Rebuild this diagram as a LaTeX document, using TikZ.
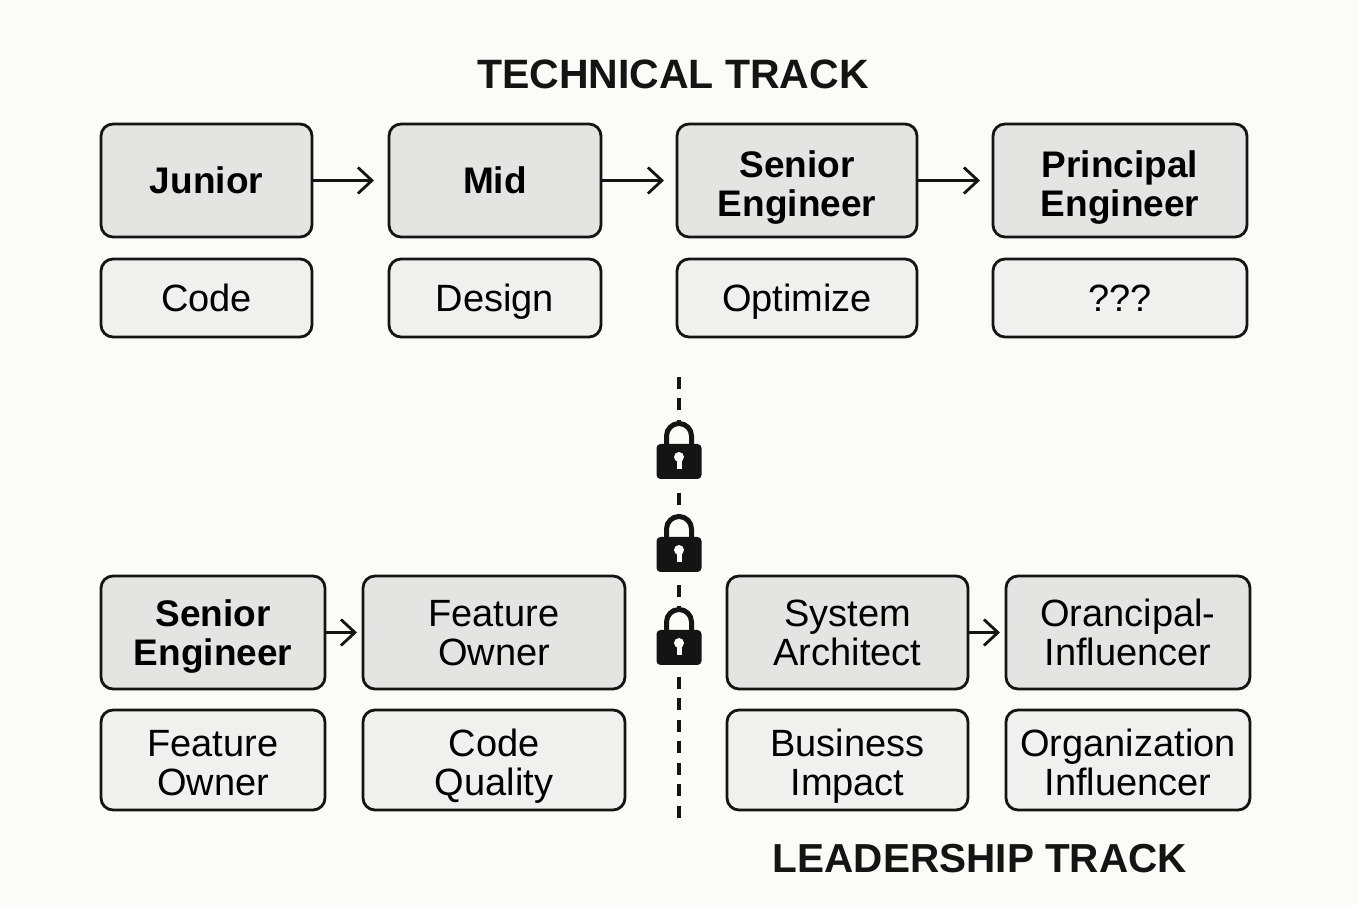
\documentclass[tikz,border=0pt]{standalone}
\usepackage{fontspec}
\setmainfont{Liberation Sans}
\usepackage{tikz}
\usetikzlibrary{arrows.meta, positioning}
\definecolor{pagecream}{RGB}{251,251,248}
\definecolor{inkblack}{RGB}{20,20,20}
\definecolor{rolegrey}{RGB}{228,228,227}
\definecolor{skillgrey}{RGB}{240,240,238}

\tikzset{
   pics/padlock/.style={code={
      \draw[inkblack, line width=5pt] (-12.5,6) -- (-12.5,14) arc[start angle=180, end angle=0, radius=12.5] -- (12.5,6);
      \fill[inkblack, rounded corners=4pt] (-22.5,-29) rectangle (22.5,6);
      \fill[pagecream] (0,-7) circle (5);
      \fill[pagecream] (-2.5,-8) rectangle (2.5,-19);
   }}
}

\begin{document}
\begin{tikzpicture}[x=1pt, y=1pt,
   rolebox/.style={draw=inkblack, fill=rolegrey, line width=2.8pt, rounded corners=12pt, outer sep=0pt, inner sep=3pt,
                  minimum height=113pt, align=center, text depth=0pt, font=\fontsize{38}{39}\selectfont},
   rolebold/.style={rolebox, font=\fontsize{37}{39}\selectfont\bfseries},
   skillbox/.style={draw=inkblack, fill=skillgrey, line width=2.8pt, rounded corners=12pt, outer sep=0pt, inner sep=3pt,
                  minimum height=78pt, align=center, text depth=0pt, font=\fontsize{38}{39}\selectfont},
   skilltall/.style={skillbox, minimum height=100pt, text height=71pt},
   tracktitle/.style={font=\fontsize{41}{44}\selectfont\bfseries, text=inkblack, inner sep=0pt},
   lockspot/.style={minimum width=45pt, minimum height=58pt, inner sep=0pt, outer sep=0pt},
   rel/.style={-{Straight Barb[length=14pt, width=26pt]}, inkblack, line width=2.8pt},
   divider/.style={inkblack, line width=4pt, dash pattern=on 12pt off 9.5pt}]

 \useasboundingbox[fill=pagecream] (0,0) rectangle (1358,905);

 \node[tracktitle] (techtitle) at (673,831) {TECHNICAL TRACK};
 \node[tracktitle, font=\fontsize{40.5}{44}\selectfont\bfseries] (leadtitle) at (980,46) {LEADERSHIP TRACK};

 % technical track
 \node[rolebold, minimum width=211pt] (junior) at (206.5,724.5) {Junior};
 \node[rolebold, minimum width=212pt, right=77pt of junior] (midlevel) {Mid};
 \node[rolebold, minimum width=240pt, text height=73pt, right=76pt of midlevel] (senior) {Senior\\Engineer};
 \node[rolebold, minimum width=254pt, text height=73pt, right=76pt of senior] (principal) {Principal\\Engineer};

 \node[skillbox, minimum width=211pt, below=22pt of junior] (code) {Code};
 \node[skillbox, minimum width=212pt, below=22pt of midlevel] (design) {Design};
 \node[skillbox, minimum width=240pt, below=22pt of senior] (optimize) {Optimize};
 \node[skillbox, minimum width=254pt, below=22pt of principal] (unknown) {???};

 % leadership track
 \node[rolebold, minimum width=224pt] (seniorlead) at (213,272.5) {Senior\\Engineer};
 \node[rolebox, minimum width=262pt, right=38pt of seniorlead] (featurerole) {Feature\\Owner};
 \node[rolebox, minimum width=241pt, right=102pt of featurerole] (architect) {System\\Architect};
 \node[rolebox, minimum width=244pt, right=38pt of architect] (orancipal) {Orancipal-\\Influencer};

 \node[skilltall, minimum width=224pt, below=21pt of seniorlead] (featureskill) {Feature\\Owner};
 \node[skilltall, minimum width=262pt, below=21pt of featurerole] (quality) {Code\\Quality};
 \node[skilltall, minimum width=241pt, below=21pt of architect] (impact) {Business\\Impact};
 \node[skilltall, minimum width=244pt, below=21pt of orancipal] (influence) {Organization\\Influencer};

 \draw[rel, shorten >=15pt] (junior) -- (midlevel);
 \draw[rel, shorten >=13pt] (midlevel) -- (senior);
 \draw[rel, shorten >=13pt] (senior) -- (principal);
 \draw[rel, shorten >=6pt] (seniorlead) -- (featurerole);
 \draw[rel, shorten >=6pt] (architect) -- (orancipal);

 % locks on the dashed divider
 \coordinate (dividertop) at (679,528);
 \coordinate (dividerend) at (679,87);
 \node[lockspot] (lockone) at (679,455) {};
 \node[lockspot] (locktwo) at (679,362) {};
 \node[lockspot] (lockthree) at (679,269) {};
 \pic at (lockone) {padlock};
 \pic at (locktwo) {padlock};
 \pic at (lockthree) {padlock};

 \draw[divider] (dividertop) -- (lockone.north);
 \draw[divider, shorten <=14pt] (lockone.south) -- (locktwo.north);
 \draw[divider, shorten <=13pt] (locktwo.south) -- (lockthree.north);
 \draw[divider, shorten <=12pt] (lockthree.south) -- (dividerend);
\end{tikzpicture}
\end{document}
